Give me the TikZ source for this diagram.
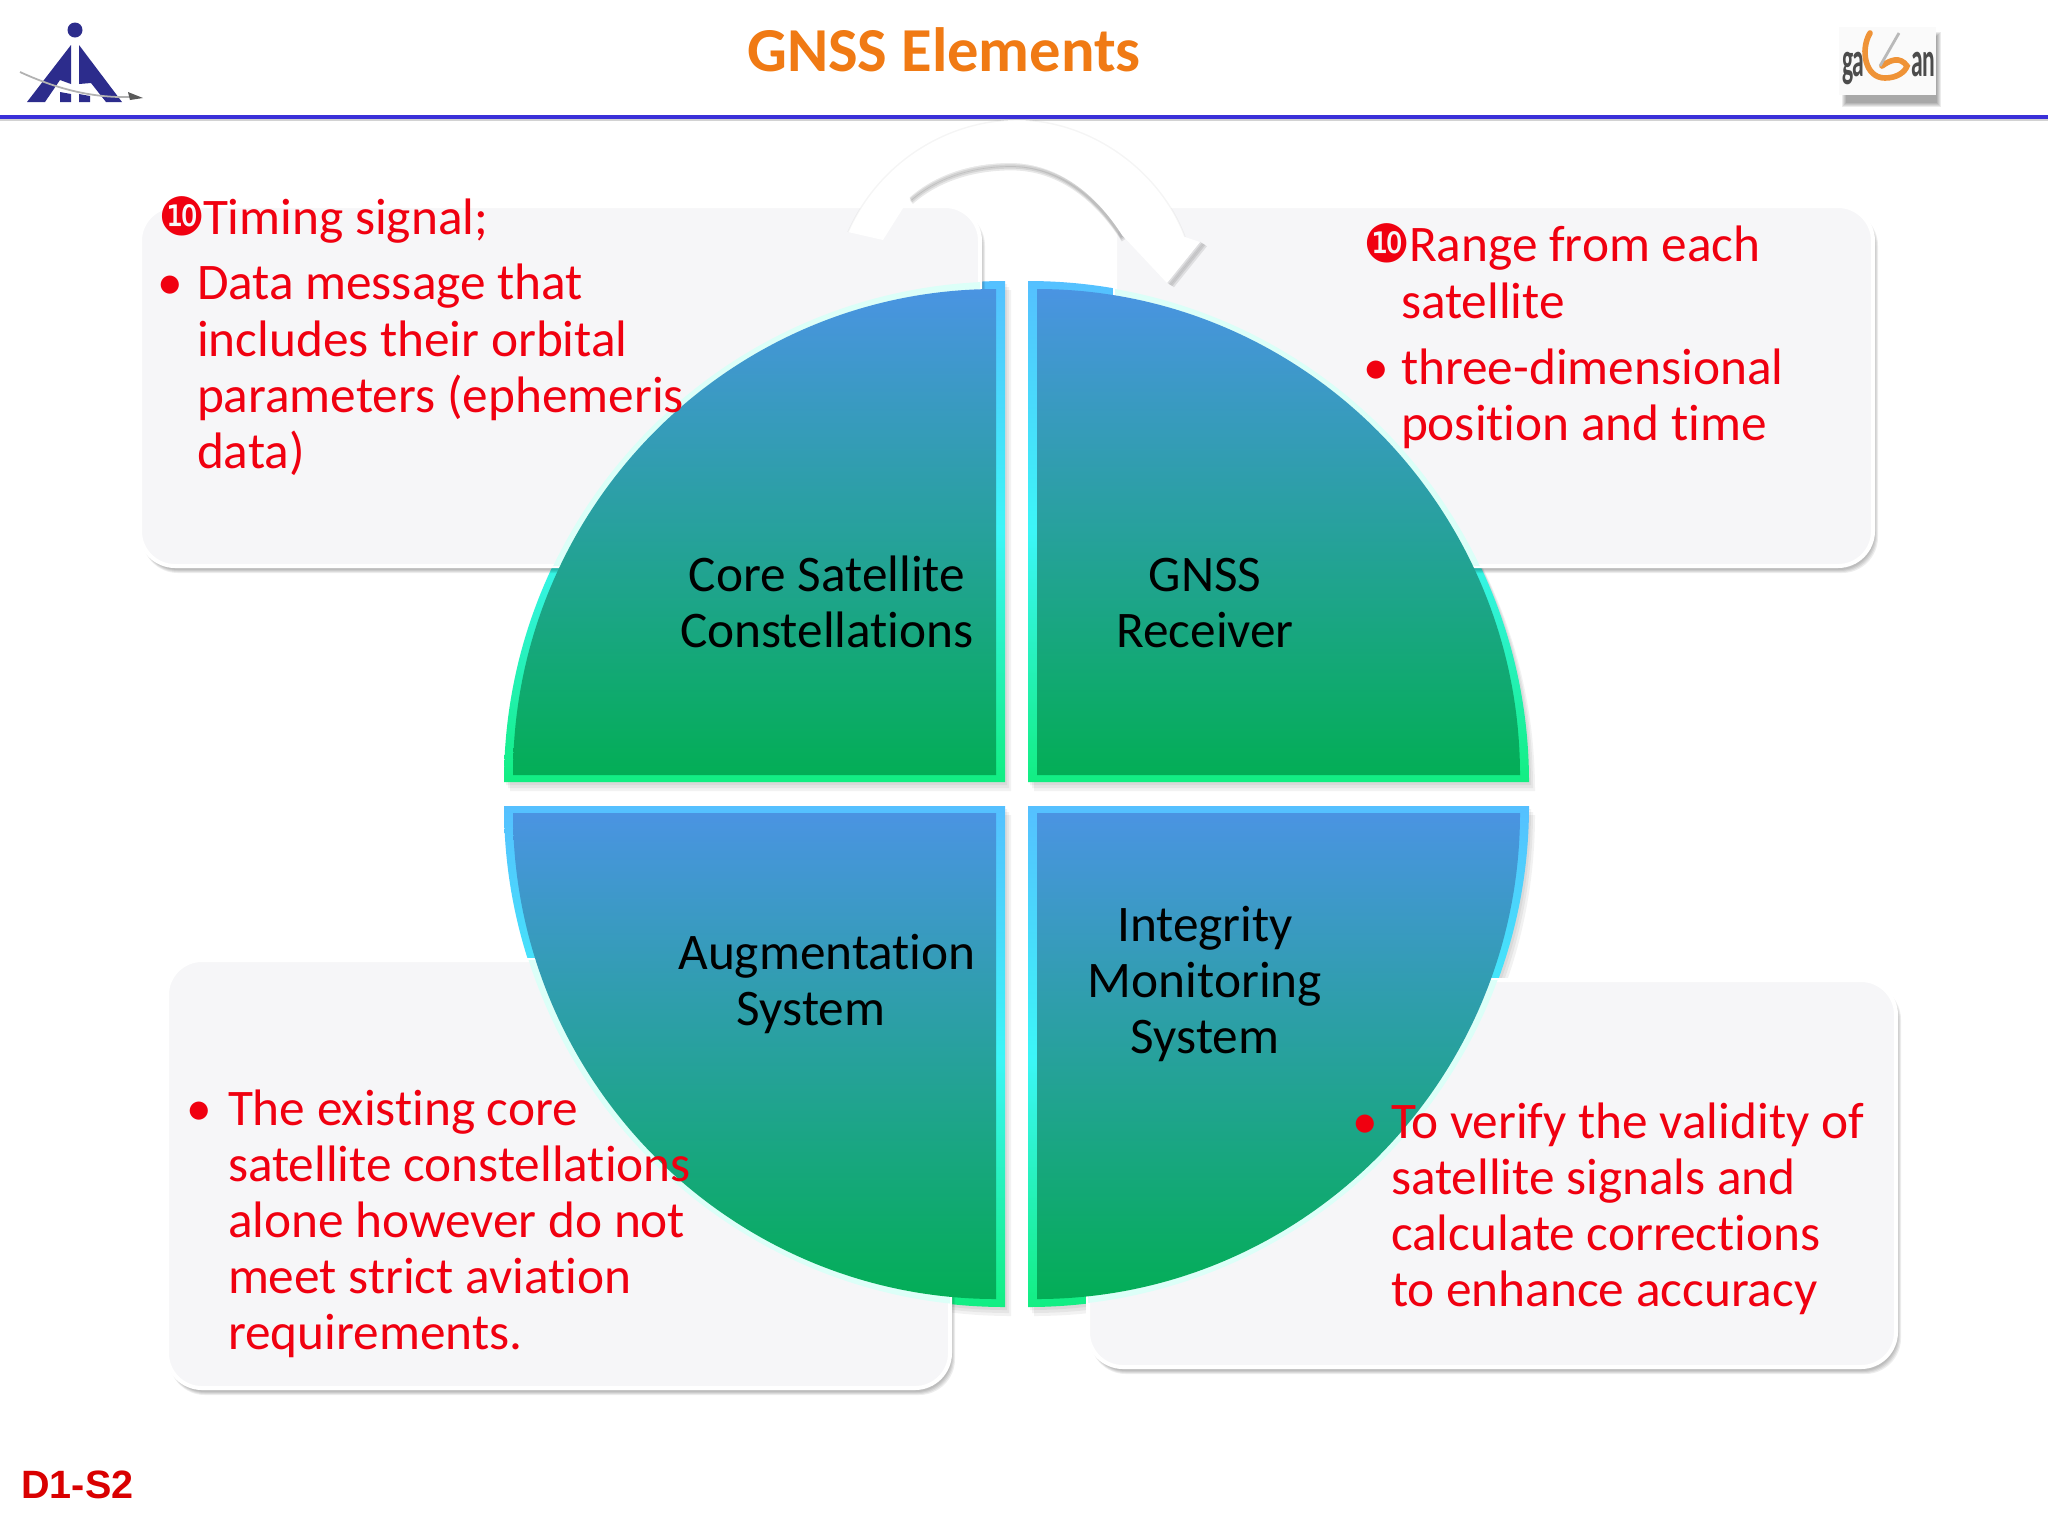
\documentclass[tikz,border=0pt]{standalone}
\usepackage{fontspec}
\setmainfont{Carlito}[Ligatures=NoCommon]
\newfontfamily\djfont{DejaVu Sans}
\newfontfamily\arialfont{Liberation Sans}
\definecolor{txtred}{HTML}{F00010}
\definecolor{boxfill}{HTML}{F6F6F8}
\definecolor{rulecol}{HTML}{3A30D8}
\definecolor{orangetitle}{HTML}{F07A14}
\definecolor{aainavy}{HTML}{2C2C8C}
\definecolor{secblue}{HTML}{4A94E2}
\definecolor{secgreen}{HTML}{03AE56}
\definecolor{edgetop}{HTML}{55C0FF}
\definecolor{edgemid}{HTML}{3CF6F8}
\definecolor{edgebot}{HTML}{12EE82}
\definecolor{paleedge}{HTML}{DCFFF8}
\tikzset{
  body/.style={anchor=base west,inner sep=0pt,outer sep=0pt,text=txtred,font=\fontsize{29.2}{32}\selectfont},
  seclabel/.style={anchor=base,inner sep=0pt,outer sep=0pt,text=black,font=\fontsize{29.2}{32}\selectfont},
  numglyph/.style={anchor=base west,inner sep=0pt,outer sep=0pt,text=txtred,font=\djfont\fontsize{30}{32}\selectfont},
  secedge/.style={top color=edgetop,bottom color=edgebot,middle color=edgemid,draw=none},
  secinner/.style={top color=secblue,bottom color=secgreen,draw=none},
  logoletters/.style={anchor=base west,inner sep=0pt,text=gray!60!black,xscale=.48,font=\bfseries\fontsize{28}{30}\selectfont},
}
\newcommand{\softbox}[4]{%
  \foreach \d in {0,1,2,3}{
    \fill[black,opacity=.07,rounded corners=0.72cm] ({#1+2},{#2+4}) rectangle ({#3+2+\d},{#4+4+\d});
  }
  \fill[boxfill,rounded corners=0.7cm] (#1,#2) rectangle (#3,#4);
  \draw[white,line width=0.08cm,rounded corners=0.7cm] (#1,#2) rectangle (#3,#4);
}
\newcommand{\secshadow}[1]{%
  \foreach \d in {1,2,3}{
    \fill[black,opacity=.05,xshift=\d*0.04cm,yshift=-\d*0.06cm] #1;
  }
}
\def\arrowpath{(848,232) .. controls (880,160) and (950,120) .. (1017,120)
  .. controls (1090,120) and (1160,170) .. (1185,237)
  -- (1200,242) -- (1167,283) -- (1122,235)
  .. controls (1090,185) and (1050,163) .. (1010,163)
  .. controls (970,163) and (935,175) .. (910,197)
  -- (883,240) -- cycle}
\def\pTL{(504,782) .. controls (504,505) and (728,281) .. (1005,281) -- (1005,782) -- cycle}
\def\pTR{(1529,782) .. controls (1529,505) and (1305,281) .. (1028,281) -- (1028,782) -- cycle}
\def\pBL{(504,806) .. controls (504,1083) and (728,1307) .. (1005,1307) -- (1005,806) -- cycle}
\def\pBR{(1529,806) .. controls (1529,1083) and (1305,1307) .. (1028,1307) -- (1028,806) -- cycle}
\begin{document}
\begin{tikzpicture}[x=0.02cm,y=-0.02cm]
\useasboundingbox (0,0) rectangle (2048,1536);
\fill[white] (0,0) rectangle (2048,1536);

% header rule
\fill[gray!35] (0,118) rectangle (2048,121);
\fill[rulecol] (0,115) rectangle (2048,119);

% title
\node[anchor=base,inner sep=0pt,text=orangetitle,font=\bfseries\fontsize{35.6}{40}\selectfont] (title) at (944,71) {GNSS Elements};

% AAI logo
\fill[aainavy] (75,30) circle (7.5);
\fill[aainavy] (71,45) -- (27,102) -- (45,102) -- (60,80) -- (71,84) -- cycle;
\fill[aainavy] (60,92) -- (71,94) -- (71,102) -- (60,102) -- cycle;
\fill[aainavy] (79,45) -- (122,102) -- (106,102) -- (91,83) -- (79,84) -- cycle;
\fill[aainavy] (79,94) -- (90,96) -- (90,102) -- (79,102) -- cycle;
\draw[gray!60,line width=1.0pt] (20,72) .. controls (55,88) and (90,98) .. (130,97);
\fill[gray!70!black] (128,92) -- (143,98) -- (130,100) -- cycle;

% gagan logo
\foreach \d in {0,1,2,3,4}{
  \fill[black,opacity=.08] ({1842+\d},{32+\d}) rectangle ({1941-\d},{107-\d});
}
\fill[white!96!gray] (1839,27) rectangle (1936,95);
\node[logoletters] (logoga) at (1842,76) {ga};
\node[logoletters] (logoan) at (1911,76) {an};
\draw[orange!70!brown!85!white,line width=3.2pt,line cap=round] (1870,33) .. controls (1860,50) and (1865,78) .. (1885,78) .. controls (1897,78) and (1905,72) .. (1907,66) .. controls (1900,56) and (1890,60) .. (1882,66);
\draw[gray!55,line width=1.6pt] (1899,33) -- (1880,66);

% sector outer bands with their shadow
\secshadow{\pTL}
\secshadow{\pTR}
\secshadow{\pBL}
\secshadow{\pBR}
\shade[secedge] \pTL;
\shade[secedge] \pTR;
\shade[secedge] \pBL;
\shade[secedge] \pBR;

% text boxes, lying over the bands
\softbox{140}{206}{980}{566}
\softbox{1115}{206}{1873}{566}
\softbox{167}{960}{950}{1388}
\softbox{1088}{980}{1896}{1367}

% pale band where an arc crosses a box
\begin{scope}
\clip[rounded corners=0.7cm] (140,206) rectangle (980,566);
\draw[paleedge,line width=0.14cm] (508,782) .. controls (508,507) and (730,285) .. (1005,285);
\end{scope}
\begin{scope}
\clip[rounded corners=0.7cm] (1115,206) rectangle (1873,566);
\draw[paleedge,line width=0.14cm] (1525,782) .. controls (1525,507) and (1303,285) .. (1028,285);
\end{scope}
\begin{scope}
\clip[rounded corners=0.7cm] (167,960) rectangle (950,1388);
\draw[paleedge,line width=0.14cm] (508,806) .. controls (508,1081) and (730,1303) .. (1005,1303);
\end{scope}
\begin{scope}
\clip[rounded corners=0.7cm] (1088,980) rectangle (1896,1367);
\draw[paleedge,line width=0.14cm] (1525,806) .. controls (1525,1081) and (1303,1303) .. (1028,1303);
\end{scope}

% curved arrow
\foreach \d in {1,2,3}{
  \draw[black,opacity=.09,line width=2.4pt,xshift=\d*0.01cm,yshift=-\d*0.035cm]
    (1122,235) .. controls (1090,185) and (1050,163) .. (1010,163)
    .. controls (970,163) and (935,175) .. (910,197);
  \draw[black,opacity=.09,line width=2.4pt,xshift=\d*0.035cm,yshift=-\d*0.02cm]
    (1200,242) -- (1167,283);
}
\fill[white] \arrowpath;
\draw[black,opacity=.04,line width=0.8pt]
  (848,232) .. controls (880,160) and (950,120) .. (1017,120)
  .. controls (1090,120) and (1160,170) .. (1185,237);

% inner sectors
\shade[secinner] (513,775) .. controls (513,507) and (730,289) .. (996,289) -- (996,775) -- cycle;
\shade[secinner] (1520,775) .. controls (1520,507) and (1303,289) .. (1037,289) -- (1037,775) -- cycle;
\shade[secinner] (513,813) .. controls (513,1081) and (730,1299) .. (996,1299) -- (996,813) -- cycle;
\shade[secinner] (1520,813) .. controls (1520,1081) and (1303,1299) .. (1037,1299) -- (1037,813) -- cycle;

% sector labels
\node[seclabel] (core1) at (827,591) {Core Satellite};
\node[seclabel] (core2) at (827,647) {Constellations};
\node[seclabel] (rec1) at (1205,591) {GNSS};
\node[seclabel] (rec2) at (1205,647) {Receiver};
\node[seclabel] (aug1) at (827,969) {Augmentation};
\node[seclabel] (aug2) at (811,1025) {System};
\node[seclabel] (int1) at (1205,941) {Integrity};
\node[seclabel] (int2) at (1205,997) {Monitoring};
\node[seclabel] (int3) at (1205,1053) {System};

% top-left text
\node[numglyph] (tlnum) at (158,235) {❿};
\node[body] (tl0) at (203,234) {Timing signal;};
\node[body] (tlb) at (157,299) {•};
\node[body] (tl1) at (197,299) {Data message that};
\node[body] (tl2) at (197,356) {includes their orbital};
\node[body] (tl3) at (197,412) {parameters (ephemeris};
\node[body] (tl4) at (197,468) {data)};

% top-right text
\node[numglyph] (trnum) at (1363,262) {❿};
\node[body] (tr0) at (1409,261) {Range from each};
\node[body] (tr1) at (1401,318) {satellite};
\node[body] (trb) at (1363,384) {•};
\node[body] (tr2) at (1401,384) {three-dimensional};
\node[body] (tr3) at (1401,440) {position and time};

% bottom-left text
\node[body] (blb) at (186,1125) {•};
\node[body] (bl0) at (228,1125) {The existing core};
\node[body] (bl1) at (228,1181) {satellite constellations};
\node[body] (bl2) at (228,1237) {alone however do not};
\node[body] (bl3) at (228,1293) {meet strict aviation};
\node[body] (bl4) at (228,1349) {requirements.};

% bottom-right text
\node[body] (brb) at (1352,1138) {•};
\node[body] (br0) at (1391,1138) {To verify the validity of};
\node[body] (br1) at (1391,1194) {satellite signals and};
\node[body] (br2) at (1391,1250) {calculate corrections};
\node[body] (br3) at (1391,1306) {to enhance accuracy};

% footer
\node[anchor=base west,inner sep=0pt,text=red!85!black,font=\arialfont\bfseries\fontsize{22.5}{26}\selectfont] (foot) at (21,1498) {D1-S2};
\end{tikzpicture}
\end{document}
